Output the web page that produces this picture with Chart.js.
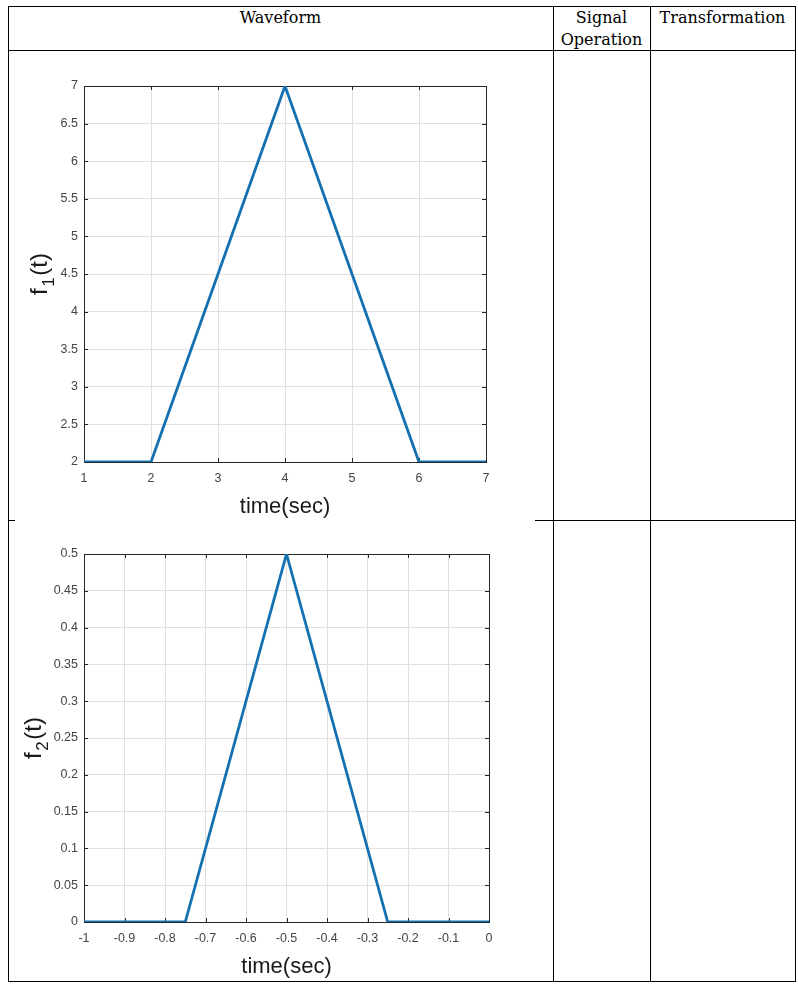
<!DOCTYPE html>
<html>
<head>
<meta charset="utf-8">
<script src="https://cdn.jsdelivr.net/npm/chart.js@4"></script>
<style>
  html, body { margin: 0; padding: 0; background: #fff; }
  body { width: 798px; height: 987px; position: relative; overflow: hidden; }
  .line { position: absolute; background: #000; }
  .hd {
    position: absolute;
    font-family: 'DejaVu Serif', serif;
    font-size: 16px;
    color: #000;
    text-align: center;
    line-height: 22px;
  }
  canvas { position: absolute; }
</style>
</head>
<body>
<!-- table grid -->
<div class="line" style="left:8px;top:6px;width:788px;height:1px"></div>
<div class="line" style="left:8px;top:50px;width:788px;height:1px"></div>
<div class="line" style="left:8px;top:981px;width:788px;height:1px"></div>
<div class="line" style="left:8px;top:6px;width:1px;height:976px"></div>
<div class="line" style="left:795px;top:6px;width:1px;height:976px"></div>
<div class="line" style="left:553px;top:6px;width:1px;height:976px"></div>
<div class="line" style="left:650px;top:6px;width:1px;height:976px"></div>
<div class="line" style="left:535px;top:520px;width:261px;height:1px"></div>
<div class="line" style="left:8px;top:520px;width:7px;height:1px"></div>

<div class="hd" style="left:8px;top:7px;width:545px">Waveform</div>
<div class="hd" style="left:553px;top:7px;width:97px">Signal<br>Operation</div>
<div class="hd" style="left:650px;top:7px;width:145px">Transformation</div>

<canvas id="c1" width="520" height="466" style="left:16px;top:52px"></canvas>
<canvas id="c2" width="520" height="456" style="left:16px;top:524px"></canvas>

<script>
// f1(t) waveform
const f1Time = [1, 2, 4, 6, 7];
const f1Values = [2, 2, 7, 2, 2];
const f1XTicks = [1, 2, 3, 4, 5, 6, 7];
const f1YTicks = [2, 2.5, 3, 3.5, 4, 4.5, 5, 5.5, 6, 6.5, 7];

// f2(t) waveform
const f2Time = [-1, -0.75, -0.5, -0.25, 0];
const f2Values = [0, 0, 0.5, 0, 0];
const f2XTicks = [-1, -0.9, -0.8, -0.7, -0.6, -0.5, -0.4, -0.3, -0.2, -0.1, 0];
const f2YTicks = [0, 0.05, 0.1, 0.15, 0.2, 0.25, 0.3, 0.35, 0.4, 0.45, 0.5];

const axisColor = '#262626';
const tickTextColor = '#444';
const gridColor = '#e0e0e0';
const lineColor = '#1470b0';

function fmt(v) {
  return String(Number(v.toFixed(2)));
}

// MATLAB-like box with inward ticks, drawn under the data line
const matlabBox = {
  id: 'matlabBox',
  beforeDatasetsDraw(chart) {
    const { ctx, chartArea: a, scales } = chart;
    const len = 4;
    ctx.save();
    ctx.strokeStyle = axisColor;
    ctx.lineWidth = 1;
    ctx.beginPath();
    for (const t of scales.x.ticks) {
      const px = Math.round(scales.x.getPixelForValue(t.value)) + 0.5;
      ctx.moveTo(px, a.bottom); ctx.lineTo(px, a.bottom - len);
      ctx.moveTo(px, a.top); ctx.lineTo(px, a.top + len);
    }
    for (const t of scales.y.ticks) {
      const py = Math.round(scales.y.getPixelForValue(t.value)) + 0.5;
      ctx.moveTo(a.left, py); ctx.lineTo(a.left + len, py);
      ctx.moveTo(a.right, py); ctx.lineTo(a.right - len, py);
    }
    ctx.stroke();
    ctx.strokeRect(Math.round(a.left) + 0.5, Math.round(a.top) + 0.5,
      Math.round(a.right - a.left), Math.round(a.bottom - a.top));
    ctx.restore();
  },
  afterDraw(chart, args, opts) {
    // y axis label with subscript, e.g. f_1(t)
    const { ctx, chartArea: a } = chart;
    const big = '24px "Liberation Sans", Arial, sans-serif';
    const small = '17px "Liberation Sans", Arial, sans-serif';
    ctx.save();
    ctx.fillStyle = '#1a1a1a';
    ctx.font = big;
    const w1 = ctx.measureText(opts.main).width;
    const w3 = ctx.measureText(opts.rest).width;
    ctx.font = small;
    const w2 = ctx.measureText(opts.sub).width;
    const total = w1 + w2 + w3 + 3;
    const cy = (a.top + a.bottom) / 2;
    ctx.translate(opts.x, cy);
    ctx.rotate(-Math.PI / 2);
    ctx.textBaseline = 'alphabetic';
    ctx.textAlign = 'left';
    let x0 = -total / 2;
    ctx.font = big;
    ctx.fillText(opts.main, x0, 0);
    x0 += w1 + 1.5;
    ctx.font = small;
    ctx.fillText(opts.sub, x0, 7);
    x0 += w2 + 1.5;
    ctx.font = big;
    ctx.fillText(opts.rest, x0, 0);
    ctx.restore();
  },
};

function makeChart(id, xs, ys, xTicks, yTicks, cfg) {
  const ctx = document.getElementById(id).getContext('2d');
  // eslint-disable-next-line no-undef
  return new Chart(ctx, {
    type: 'line',
    data: {
      datasets: [{
        data: xs.map((x, i) => ({ x, y: ys[i] })),
        borderColor: lineColor,
        backgroundColor: lineColor,
        borderWidth: 2.8,
        pointRadius: 0,
        tension: 0,
      }],
    },
    plugins: [matlabBox],
    options: {
      responsive: false,
      animation: false,
      parsing: false,
      layout: { padding: cfg.padding },
      plugins: {
        legend: { display: false },
        tooltip: { enabled: false },
        matlabBox: cfg.label,
      },
      scales: {
        x: {
          type: 'linear',
          min: xTicks[0],
          max: xTicks[xTicks.length - 1],
          afterBuildTicks: (s) => { s.ticks = xTicks.map((v) => ({ value: v })); },
          afterFit: (s) => { s.height = cfg.xHeight; },
          grid: { color: gridColor, drawTicks: false },
          border: { display: false },
          ticks: {
            padding: cfg.xPad,
            maxRotation: 0,
            autoSkip: false,
            color: tickTextColor,
            font: { family: '"Liberation Sans", Arial, sans-serif', size: 12.5 },
            callback: (v) => fmt(v),
          },
          title: {
            display: true,
            text: 'time(sec)',
            color: '#1a1a1a',
            padding: { top: 0, bottom: cfg.titlePad },
            font: { family: '"Liberation Sans", Arial, sans-serif', size: 22, lineHeight: 1 },
          },
        },
        y: {
          type: 'linear',
          min: yTicks[0],
          max: yTicks[yTicks.length - 1],
          afterBuildTicks: (s) => { s.ticks = yTicks.map((v) => ({ value: v })); },
          afterFit: (s) => { s.width = cfg.yWidth; },
          grid: { color: gridColor, drawTicks: false },
          border: { display: false },
          ticks: {
            padding: 6,
            autoSkip: false,
            color: tickTextColor,
            font: { family: '"Liberation Sans", Arial, sans-serif', size: 12.5 },
            callback: (v) => fmt(v),
          },
        },
      },
    },
  });
}

makeChart('c1', f1Time, f1Values, f1XTicks, f1YTicks, {
  padding: { top: 34, right: 50, left: 0, bottom: 0 },
  xHeight: 56,
  yWidth: 68,
  xPad: 9,
  titlePad: 0,
  label: { main: 'f', sub: '1', rest: '(t)', x: 31 },
});

makeChart('c2', f2Time, f2Values, f2XTicks, f2YTicks, {
  padding: { top: 30, right: 47, left: 0, bottom: 0 },
  xHeight: 58,
  yWidth: 68,
  xPad: 9,
  titlePad: 2,
  label: { main: 'f', sub: '2', rest: '(t)', x: 25 },
});
</script>
</body>
</html>
